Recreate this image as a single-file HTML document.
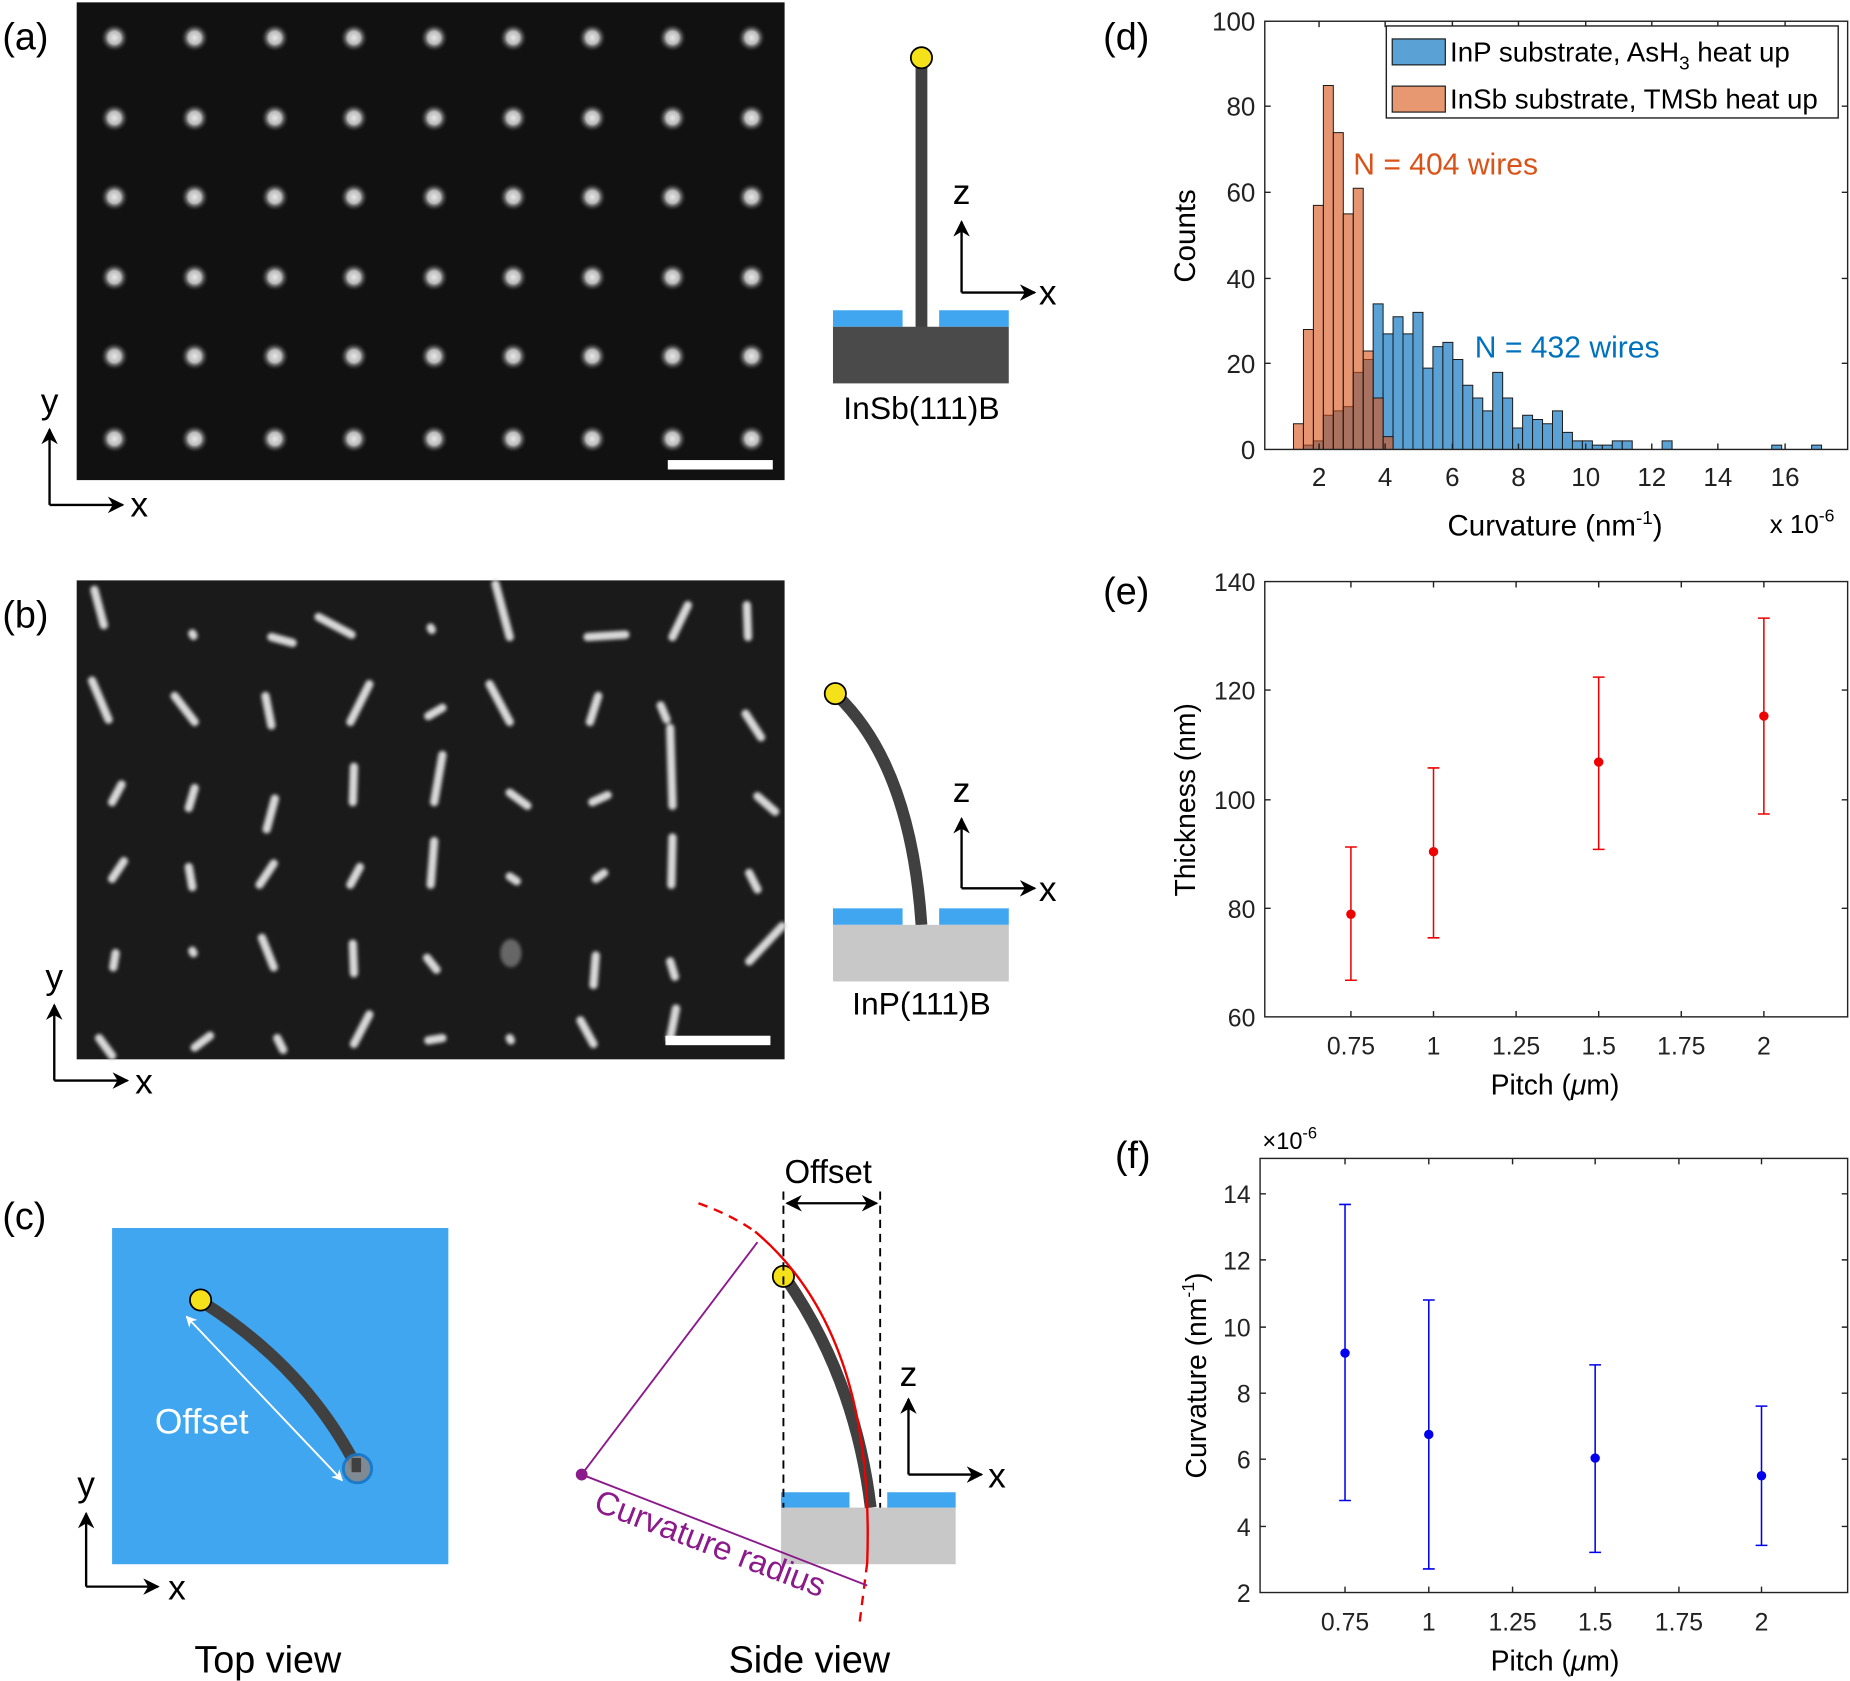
<!DOCTYPE html>
<html><head><meta charset="utf-8"><style>
html,body{margin:0;padding:0;background:#fff}
svg{display:block}
text{font-family:"Liberation Sans",sans-serif}
</style></head><body>
<svg width="1850" height="1681" viewBox="0 0 1568 1425" preserveAspectRatio="none" xmlns="http://www.w3.org/2000/svg">
<defs>
<marker id="ah" viewBox="0 0 10 10" refX="9" refY="5" markerWidth="7" markerHeight="7" orient="auto-start-reverse"><path d="M0,0 L10,5 L0,10 L3,5 z" fill="#000"/></marker>
<marker id="aw" viewBox="0 0 10 10" refX="9" refY="5" markerWidth="6" markerHeight="6" orient="auto-start-reverse"><path d="M0,0 L10,5 L0,10 L3,5 z" fill="#fff"/></marker>
<radialGradient id="dot"><stop offset="0" stop-color="#e8e8e8"/><stop offset="0.45" stop-color="#bbb"/><stop offset="1" stop-color="#1a1a1a" stop-opacity="0"/></radialGradient>
<filter id="bl"><feGaussianBlur stdDeviation="1.6"/></filter>
<g id="rowa">
<circle cx="97" cy="0" r="12" fill="url(#dot)"/><circle cx="165" cy="0" r="12" fill="url(#dot)"/><circle cx="233" cy="0" r="12" fill="url(#dot)"/><circle cx="300" cy="0" r="12" fill="url(#dot)"/><circle cx="368" cy="0" r="12" fill="url(#dot)"/><circle cx="435" cy="0" r="12" fill="url(#dot)"/><circle cx="502" cy="0" r="12" fill="url(#dot)"/><circle cx="570" cy="0" r="12" fill="url(#dot)"/><circle cx="637" cy="0" r="12" fill="url(#dot)"/>
</g>
</defs>

<!-- (a) -->
<text x="2" y="42" font-size="32">(a)</text>
<rect x="65" y="2" width="600" height="405" fill="#111"/>
<use href="#rowa" y="32"/><use href="#rowa" y="100"/><use href="#rowa" y="167"/><use href="#rowa" y="235"/><use href="#rowa" y="302"/><use href="#rowa" y="372"/>
<rect x="566" y="390" width="89" height="8" fill="#fff"/>
<line x1="42" y1="428" x2="42" y2="364" stroke="#000" stroke-width="2" marker-end="url(#ah)"/>
<line x1="42" y1="428" x2="104" y2="428" stroke="#000" stroke-width="2" marker-end="url(#ah)"/>
<text x="42" y="350" font-size="30" text-anchor="middle">y</text>
<text x="118" y="438" font-size="30" text-anchor="middle">x</text>
<!-- schematic a -->
<rect x="776" y="50" width="10" height="228" fill="#404040"/>
<circle cx="781" cy="49" r="9" fill="#f5e11a" stroke="#000" stroke-width="1.5"/>
<rect x="706" y="263" width="59" height="14" fill="#3fa6ef"/>
<rect x="796" y="263" width="59" height="14" fill="#3fa6ef"/>
<rect x="706" y="277" width="149" height="48" fill="#4a4a4a"/>
<text x="781" y="355" font-size="27" text-anchor="middle">InSb(111)B</text>
<line x1="815" y1="248" x2="815" y2="188" stroke="#000" stroke-width="2" marker-end="url(#ah)"/>
<line x1="815" y1="248" x2="877" y2="248" stroke="#000" stroke-width="2" marker-end="url(#ah)"/>
<text x="815" y="173" font-size="30" text-anchor="middle">z</text>
<text x="888" y="258" font-size="30" text-anchor="middle">x</text>

<!-- (b) -->
<text x="2" y="532" font-size="32">(b)</text>
<rect x="65" y="492" width="600" height="406" fill="#1a1a1a"/>
<g stroke="#d8d8d8" stroke-width="7" stroke-linecap="round" fill="none" filter="url(#bl)">
<path d="M80,500 L88,530 M163,537 L164,539 M230,540 L248,545 M270,523 L298,538 M365,532 L366,534 M420,495 L432,540 M498,540 L530,538 M583,513 L570,540 M633,513 L634,540
M78,577 L92,610 M148,590 L165,612 M225,590 L230,615 M313,580 L297,612 M375,600 L363,607 M415,580 L432,612 M507,590 L500,612 M560,598 L565,610 M632,605 L645,625
M103,665 L95,680 M165,668 L160,685 M233,677 L226,703 M300,650 L299,680 M375,640 L368,680 M432,672 L447,683 M515,674 L502,680 M568,617 L570,683 M642,675 L657,688
M105,730 L95,745 M160,735 L163,752 M232,732 L220,750 M305,735 L297,750 M368,713 L365,750 M432,743 L438,747 M512,740 L505,745 M570,710 L569,750 M635,740 L642,754
M98,808 L96,820 M163,806 L164,808 M222,795 L232,820 M299,800 L300,825 M362,812 L370,822 M505,810 L503,835 M568,815 L572,828 M663,785 L635,815
M84,880 L95,895 M178,878 L165,888 M235,880 L240,890 M313,860 L300,885 M375,880 L363,882 M432,880 L433,882 M492,865 L503,885 M573,855 L568,880"/>
</g>
<ellipse cx="433" cy="808" rx="9" ry="12" fill="#666" filter="url(#bl)"/>
<rect x="564" y="878" width="89" height="8" fill="#fff"/>
<line x1="46" y1="916" x2="46" y2="852" stroke="#000" stroke-width="2" marker-end="url(#ah)"/>
<line x1="46" y1="916" x2="108" y2="916" stroke="#000" stroke-width="2" marker-end="url(#ah)"/>
<text x="46" y="838" font-size="30" text-anchor="middle">y</text>
<text x="122" y="927" font-size="30" text-anchor="middle">x</text>
<path d="M710,590 Q772,650 781,784" stroke="#404040" stroke-width="10" fill="none"/>
<circle cx="708" cy="588" r="9" fill="#f5e11a" stroke="#000" stroke-width="1.5"/>
<rect x="706" y="770" width="59" height="14" fill="#3fa6ef"/>
<rect x="796" y="770" width="59" height="14" fill="#3fa6ef"/>
<rect x="706" y="784" width="149" height="48" fill="#c8c8c8"/>
<text x="781" y="860" font-size="27" text-anchor="middle">InP(111)B</text>
<line x1="815" y1="753" x2="815" y2="694" stroke="#000" stroke-width="2" marker-end="url(#ah)"/>
<line x1="815" y1="753" x2="877" y2="753" stroke="#000" stroke-width="2" marker-end="url(#ah)"/>
<text x="815" y="680" font-size="30" text-anchor="middle">z</text>
<text x="888" y="764" font-size="30" text-anchor="middle">x</text>

<!-- (c) -->
<text x="2" y="1042" font-size="32">(c)</text>
<rect x="95" y="1041" width="285" height="285" fill="#40a6f0"/>
<path d="M172,1104 Q260,1160 303,1245" stroke="#404040" stroke-width="10" fill="none"/>
<circle cx="303" cy="1245" r="12" fill="#888" stroke="#1976c8" stroke-width="2.5" opacity="0.9"/>
<rect x="298" y="1236" width="8" height="12" fill="#404040"/>
<circle cx="170" cy="1102" r="9" fill="#f5e11a" stroke="#000" stroke-width="1.5"/>
<line x1="158" y1="1116" x2="290" y2="1255" stroke="#fff" stroke-width="1.6" marker-start="url(#aw)" marker-end="url(#aw)"/>
<text x="171" y="1215" font-size="30" fill="#fff" text-anchor="middle">Offset</text>
<line x1="73" y1="1345" x2="73" y2="1283" stroke="#000" stroke-width="2" marker-end="url(#ah)"/>
<line x1="73" y1="1345" x2="134" y2="1345" stroke="#000" stroke-width="2" marker-end="url(#ah)"/>
<text x="73" y="1268" font-size="30" text-anchor="middle">y</text>
<text x="150" y="1356" font-size="30" text-anchor="middle">x</text>
<text x="227" y="1418" font-size="32" text-anchor="middle">Top view</text>
<!-- side view -->
<rect x="662" y="1278" width="148" height="48" fill="#c8c8c8"/>
<rect x="662" y="1265" width="58" height="13" fill="#3fa6ef"/>
<rect x="752" y="1265" width="58" height="13" fill="#3fa6ef"/>
<path d="M667,1085 Q725,1170 738,1278" stroke="#404040" stroke-width="10" fill="none"/>
<circle cx="664" cy="1082" r="9" fill="#f5e11a" stroke="#000" stroke-width="1.5"/>
<path d="M592,1020 Q620,1030 640,1044" stroke="#e00" stroke-width="2" fill="none" stroke-dasharray="8,6"/>
<path d="M640,1044 Q742,1130 735,1325" stroke="#e00" stroke-width="2" fill="none"/>
<path d="M735,1325 L728,1380" stroke="#e00" stroke-width="2" fill="none" stroke-dasharray="8,6"/>
<line x1="493" y1="1250" x2="642" y2="1053" stroke="#8b1a8b" stroke-width="1.6"/>
<line x1="493" y1="1250" x2="735" y2="1344" stroke="#8b1a8b" stroke-width="1.6"/>
<circle cx="493" cy="1250" r="5" fill="#8b1a8b"/>
<text x="0" y="0" font-size="28" fill="#8b1a8b" transform="translate(502,1280) rotate(21)">Curvature radius</text>
<line x1="664" y1="1010" x2="664" y2="1278" stroke="#000" stroke-width="1.6" stroke-dasharray="7,5"/>
<line x1="746" y1="1010" x2="746" y2="1278" stroke="#000" stroke-width="1.6" stroke-dasharray="7,5"/>
<line x1="667" y1="1020" x2="743" y2="1020" stroke="#000" stroke-width="2" marker-start="url(#ah)" marker-end="url(#ah)"/>
<text x="702" y="1003" font-size="28" text-anchor="middle">Offset</text>
<line x1="770" y1="1250" x2="770" y2="1186" stroke="#000" stroke-width="2" marker-end="url(#ah)"/>
<line x1="770" y1="1250" x2="832" y2="1250" stroke="#000" stroke-width="2" marker-end="url(#ah)"/>
<text x="770" y="1175" font-size="30" text-anchor="middle">z</text>
<text x="845" y="1261" font-size="30" text-anchor="middle">x</text>
<text x="686" y="1418" font-size="32" text-anchor="middle">Side view</text>

<!-- (d) histogram -->
<text x="935" y="42" font-size="32">(d)</text>
<g transform="translate(1104.7,381) scale(8.446,-3.63)" fill="#5aa2d6" stroke="#1a1a1a" stroke-width="1">
<rect x="0" y="0" width="1" height="1" vector-effect="non-scaling-stroke"/><rect x="1" y="0" width="1" height="2" vector-effect="non-scaling-stroke"/><rect x="2" y="0" width="1" height="8" vector-effect="non-scaling-stroke"/><rect x="3" y="0" width="1" height="9" vector-effect="non-scaling-stroke"/><rect x="4" y="0" width="1" height="10" vector-effect="non-scaling-stroke"/><rect x="5" y="0" width="1" height="18" vector-effect="non-scaling-stroke"/><rect x="6" y="0" width="1" height="21" vector-effect="non-scaling-stroke"/><rect x="7" y="0" width="1" height="34" vector-effect="non-scaling-stroke"/><rect x="8" y="0" width="1" height="27" vector-effect="non-scaling-stroke"/><rect x="9" y="0" width="1" height="31" vector-effect="non-scaling-stroke"/><rect x="10" y="0" width="1" height="27" vector-effect="non-scaling-stroke"/><rect x="11" y="0" width="1" height="32" vector-effect="non-scaling-stroke"/><rect x="12" y="0" width="1" height="19" vector-effect="non-scaling-stroke"/><rect x="13" y="0" width="1" height="24" vector-effect="non-scaling-stroke"/><rect x="14" y="0" width="1" height="25" vector-effect="non-scaling-stroke"/><rect x="15" y="0" width="1" height="21" vector-effect="non-scaling-stroke"/><rect x="16" y="0" width="1" height="15" vector-effect="non-scaling-stroke"/><rect x="17" y="0" width="1" height="12" vector-effect="non-scaling-stroke"/><rect x="18" y="0" width="1" height="9" vector-effect="non-scaling-stroke"/><rect x="19" y="0" width="1" height="18" vector-effect="non-scaling-stroke"/><rect x="20" y="0" width="1" height="12" vector-effect="non-scaling-stroke"/><rect x="21" y="0" width="1" height="5" vector-effect="non-scaling-stroke"/><rect x="22" y="0" width="1" height="8" vector-effect="non-scaling-stroke"/><rect x="23" y="0" width="1" height="7" vector-effect="non-scaling-stroke"/><rect x="24" y="0" width="1" height="6" vector-effect="non-scaling-stroke"/><rect x="25" y="0" width="1" height="9" vector-effect="non-scaling-stroke"/><rect x="26" y="0" width="1" height="4" vector-effect="non-scaling-stroke"/><rect x="27" y="0" width="1" height="2" vector-effect="non-scaling-stroke"/><rect x="28" y="0" width="1" height="2" vector-effect="non-scaling-stroke"/><rect x="29" y="0" width="1" height="1" vector-effect="non-scaling-stroke"/><rect x="30" y="0" width="1" height="1" vector-effect="non-scaling-stroke"/><rect x="31" y="0" width="1" height="2" vector-effect="non-scaling-stroke"/><rect x="32" y="0" width="1" height="2" vector-effect="non-scaling-stroke"/><rect x="36" y="0" width="1" height="2" vector-effect="non-scaling-stroke"/><rect x="47" y="0" width="1" height="1" vector-effect="non-scaling-stroke"/><rect x="51" y="0" width="1" height="1" vector-effect="non-scaling-stroke"/>
</g>
<g transform="translate(1096.3,381) scale(8.446,-3.63)" fill="rgba(217,83,25,0.62)" stroke="#1a1a1a" stroke-width="1">
<rect x="0" y="0" width="1" height="6" vector-effect="non-scaling-stroke"/><rect x="1" y="0" width="1" height="28" vector-effect="non-scaling-stroke"/><rect x="2" y="0" width="1" height="57" vector-effect="non-scaling-stroke"/><rect x="3" y="0" width="1" height="85" vector-effect="non-scaling-stroke"/><rect x="4" y="0" width="1" height="74" vector-effect="non-scaling-stroke"/><rect x="5" y="0" width="1" height="55" vector-effect="non-scaling-stroke"/><rect x="6" y="0" width="1" height="61" vector-effect="non-scaling-stroke"/><rect x="7" y="0" width="1" height="23" vector-effect="non-scaling-stroke"/><rect x="8" y="0" width="1" height="12" vector-effect="non-scaling-stroke"/><rect x="9" y="0" width="1" height="3" vector-effect="non-scaling-stroke"/>
</g>
<rect x="1072" y="18" width="494" height="363" fill="none" stroke="#222" stroke-width="1.2"/>
<g stroke="#222" stroke-width="1.2">
<path d="M1118,381v-5M1174,381v-5M1231,381v-5M1287,381v-5M1344,381v-5M1400,381v-5M1456,381v-5M1513,381v-5M1118,18v5M1174,18v5M1231,18v5M1287,18v5M1344,18v5M1400,18v5M1456,18v5M1513,18v5"/>
<path d="M1072,308h5M1072,236h5M1072,163h5M1072,90h5M1566,308h-5M1566,236h-5M1566,163h-5M1566,90h-5"/>
</g>
<g font-size="22" fill="#222" text-anchor="end">
<text x="1064" y="389">0</text><text x="1064" y="316">20</text><text x="1064" y="244">40</text><text x="1064" y="171">60</text><text x="1064" y="98">80</text><text x="1064" y="26">100</text>
</g>
<g font-size="22" fill="#222" text-anchor="middle">
<text x="1118" y="412">2</text><text x="1174" y="412">4</text><text x="1231" y="412">6</text><text x="1287" y="412">8</text><text x="1344" y="412">10</text><text x="1400" y="412">12</text><text x="1456" y="412">14</text><text x="1513" y="412">16</text>
</g>
<text x="1318" y="454" font-size="25" text-anchor="middle">Curvature (nm<tspan font-size="16" dy="-10">-1</tspan><tspan dy="10">)</tspan></text>
<text x="1500" y="452" font-size="22">x 10<tspan font-size="15" dy="-10">-6</tspan></text>
<text transform="translate(1013,200) rotate(-90)" font-size="25" text-anchor="middle">Counts</text>
<rect x="1175" y="22" width="383" height="78" fill="#fff" stroke="#222" stroke-width="1.2"/>
<rect x="1180" y="33" width="45" height="22" fill="#5aa2d6" stroke="#1a1a1a"/>
<rect x="1180" y="73" width="45" height="22" fill="#e89870" stroke="#1a1a1a"/>
<text x="1229" y="52" font-size="23.5">InP substrate, AsH<tspan font-size="16" dy="7">3</tspan><tspan dy="-7"> heat up</tspan></text>
<text x="1229" y="92" font-size="23.5">InSb substrate, TMSb heat up</text>
<text x="1147" y="148" font-size="25.5" fill="#d95319">N = 404 wires</text>
<text x="1250" y="303" font-size="25.5" fill="#0072bd">N = 432 wires</text>

<!-- (e) -->
<text x="935" y="512" font-size="32">(e)</text>
<rect x="1072" y="493" width="494" height="369" fill="none" stroke="#222" stroke-width="1.2"/>
<g stroke="#222" stroke-width="1.2">
<path d="M1145,862v-5M1215,862v-5M1285,862v-5M1355,862v-5M1425,862v-5M1495,862v-5M1145,493v5M1215,493v5M1285,493v5M1355,493v5M1425,493v5M1495,493v5"/>
<path d="M1072,770h5M1072,678h5M1072,585h5M1566,770h-5M1566,678h-5M1566,585h-5"/>
</g>
<g font-size="21" fill="#222" text-anchor="end">
<text x="1064" y="870">60</text><text x="1064" y="778">80</text><text x="1064" y="686">100</text><text x="1064" y="593">120</text><text x="1064" y="501">140</text>
</g>
<g font-size="21" fill="#222" text-anchor="middle">
<text x="1145" y="894">0.75</text><text x="1215" y="894">1</text><text x="1285" y="894">1.25</text><text x="1355" y="894">1.5</text><text x="1425" y="894">1.75</text><text x="1495" y="894">2</text>
</g>
<text x="1318" y="928" font-size="24" text-anchor="middle">Pitch (<tspan font-style="italic">μ</tspan>m)</text>
<text transform="translate(1013,678) rotate(-90)" font-size="24" text-anchor="middle">Thickness (nm)</text>
<g stroke="#e00" stroke-width="1.3" fill="none">
<path d="M1145,718V831M1140,718h10M1140,831h10"/>
<path d="M1215,651V795M1210,651h10M1210,795h10"/>
<path d="M1355,574V720M1350,574h10M1350,720h10"/>
<path d="M1495,524V690M1490,524h10M1490,690h10"/>
</g>
<g fill="#e00"><circle cx="1145" cy="775" r="4"/><circle cx="1215" cy="722" r="4"/><circle cx="1355" cy="646" r="4"/><circle cx="1495" cy="607" r="4"/></g>

<!-- (f) -->
<text x="945" y="990" font-size="32">(f)</text>
<text x="1070" y="974" font-size="20">×10<tspan font-size="14" dy="-9">-6</tspan></text>
<rect x="1068" y="982" width="498" height="368" fill="none" stroke="#222" stroke-width="1.2"/>
<g stroke="#222" stroke-width="1.2">
<path d="M1140,1350v-5M1211,1350v-5M1282,1350v-5M1352,1350v-5M1423,1350v-5M1493,1350v-5M1140,982v5M1211,982v5M1282,982v5M1352,982v5M1423,982v5M1493,982v5"/>
<path d="M1068,1294h5M1068,1237h5M1068,1181h5M1068,1125h5M1068,1068h5M1068,1012h5M1566,1294h-5M1566,1237h-5M1566,1181h-5M1566,1125h-5M1566,1068h-5M1566,1012h-5"/>
</g>
<g font-size="21" fill="#222" text-anchor="end">
<text x="1060" y="1358">2</text><text x="1060" y="1302">4</text><text x="1060" y="1245">6</text><text x="1060" y="1189">8</text><text x="1060" y="1133">10</text><text x="1060" y="1076">12</text><text x="1060" y="1020">14</text>
</g>
<g font-size="21" fill="#222" text-anchor="middle">
<text x="1140" y="1382">0.75</text><text x="1211" y="1382">1</text><text x="1282" y="1382">1.25</text><text x="1352" y="1382">1.5</text><text x="1423" y="1382">1.75</text><text x="1493" y="1382">2</text>
</g>
<text x="1318" y="1416" font-size="24" text-anchor="middle">Pitch (<tspan font-style="italic">μ</tspan>m)</text>
<text transform="translate(1022,1166) rotate(-90)" font-size="24" text-anchor="middle">Curvature (nm<tspan font-size="15" dy="-10">-1</tspan><tspan dy="10">)</tspan></text>
<g stroke="#00e" stroke-width="1.3" fill="none">
<path d="M1140,1021V1272M1135,1021h10M1135,1272h10"/>
<path d="M1211,1102V1330M1206,1102h10M1206,1330h10"/>
<path d="M1352,1157V1316M1347,1157h10M1347,1316h10"/>
<path d="M1493,1192V1310M1488,1192h10M1488,1310h10"/>
</g>
<g fill="#00e"><circle cx="1140" cy="1147" r="4"/><circle cx="1211" cy="1216" r="4"/><circle cx="1352" cy="1236" r="4"/><circle cx="1493" cy="1251" r="4"/></g>
</svg>
</body></html>
